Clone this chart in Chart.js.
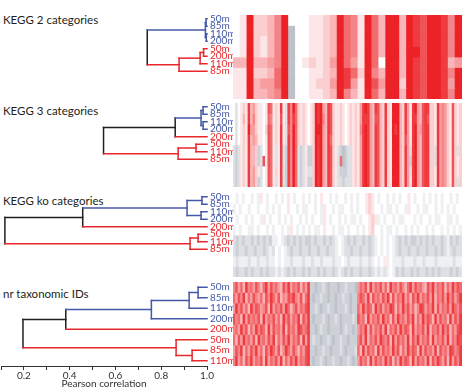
<!DOCTYPE html>
<html>
<head>
<meta charset="utf-8">
<script src="https://cdn.jsdelivr.net/npm/chart.js@4.4.0/dist/chart.umd.min.js"></script>
<style>
    html, body { margin: 0; padding: 0; background: #fff; }
    body { width: 474px; height: 387px; position: relative; overflow: hidden; font-family: Lato, 'Open Sans', sans-serif; }
    canvas { position: absolute; }
    .title { position: absolute; left: 3px; font-size: 11.5px; line-height: 14px; color: #231f20; white-space: nowrap; }
</style>
</head>
<body>
<div id="root"></div>
<script>
// Panel titles and leaf labels
const panelTitles = ['KEGG 2 categories', 'KEGG 3 categories', 'KEGG ko categories', 'nr taxonomic IDs'];
const kegg2Leaves = ['50m', '85m', '110m', '200m', '50m', '200m', '110m', '85m'];
const kegg3Leaves = ['50m', '85m', '110m', '200m', '200m', '50m', '110m', '85m'];
const keggKoLeaves = ['50m', '85m', '110m', '200m', '200m', '50m', '110m', '85m'];
const nrLeaves = ['50m', '85m', '110m', '200m', '200m', '50m', '85m', '110m'];
// 0 = blue sample group, 1 = red sample group
const leafGroups = [0, 0, 0, 0, 1, 1, 1, 1];

// Merges: [child a, child b, Pearson correlation], nodes 8.. are earlier merges
const kegg2Merges = [[0, 1, 0.996], [2, 3, 0.997], [8, 9, 0.993], [4, 5, 0.985], [11, 6, 0.970], [12, 7, 0.878], [10, 13, 0.739]];
const kegg3Merges = [[0, 1, 0.983], [2, 3, 0.983], [8, 9, 0.974], [10, 4, 0.861], [5, 6, 0.952], [12, 7, 0.874], [11, 13, 0.548]];
const keggKoMerges = [[0, 1, 0.978], [2, 3, 0.974], [8, 9, 0.913], [10, 4, 0.457], [5, 6, 0.961], [12, 7, 0.926], [11, 13, 0.117]];
const nrMerges = [[0, 1, 0.961], [8, 2, 0.922], [9, 3, 0.757], [10, 4, 0.383], [6, 7, 0.935], [5, 12, 0.865], [11, 13, 0.196]];

// x axis
const xTickValues = [0.1, 0.2, 0.3, 0.4, 0.5, 0.6, 0.7, 0.8, 0.9, 1.0];
const xTickLabels = ['', '0.2', '', '0.4', '', '0.6', '', '0.8', '', '1.0'];

// Heatmap cells, one string per row: 0-9 = red level, a-e = grey level
const kegg2Cells = [
    '0192235900 0112396519 6399398799 859',
    '01922359d0 0112396519 6399398799 859',
    '01921359d0 0112396519 6399398799 859',
    '01921359d0 0112396519 6399399799 859',
    '33933459d0 1212496419 6099398799 834',
    '11922369d0 0112398629 5399398799 859',
    '11934469d0 0122498419 7499298799 849',
    '11933459d0 0112395319 6399398799 859'
];
const kegg3Cells = [
    '0b0 121 8 342 11 01 76 121 8 1b 8596 212 1012 989 43 87 21 121012 121 4 898 43 87 32 8 21 999 32 8 41 89 43 78 82 21 8 454 21 7 212',
    '0b0 131 8 352 11 01 65 121 7 1b 8586 212 1012 989 53 87 21 121012 121 4 888 43 77 32 8 21 999 32 8 41 88 43 78 72 21 8 454 21 7 212',
    '0b0 121 9 442 11 02 76 121 8 1b 7596 212 1012 999 43 87 21 121012 121 5 898 43 87 32 8 21 989 32 8 41 89 44 78 82 21 8 454 21 7 212',
    '0b0 121 8 343 11 01 76 121 8 1b 8596 212 1012 989 43 86 21 121012 121 4 898 43 87 32 8 21 999 32 7 41 89 43 78 82 21 8 454 21 7 212',
    'bcb 121 8 332 cb 01 76 1b1 8 bc 8596 bcb 1cc2 989 43 87 21 bcdcbb 121 4 898 43 87 32 8 21 999 32 8 4b 89 43 78 82 2b 8 454 21 7 2b2',
    'bcb 121 8 332 cb 71 76 1b1 8 bc 8596 bcb 1cc2 989 43 87 21 b6dcbb 121 4 898 43 87 32 8 21 999 32 8 4c 89 43 78 82 2b 8 454 21 7 212',
    'bcb 121 8 342 1b 01 76 121 8 bc 8596 bcb 1bb2 989 43 87 21 bcccbb 121 4 898 43 87 32 8 21 999 32 8 4b 89 43 78 82 21 8 454 21 7 212',
    'bcb 121 8 342 cb 01 76 1b1 8 bc 8596 bcb 1cc2 989 43 87 21 bbcbbb 121 4 898 43 87 32 8 21 999 32 8 41 89 43 78 82 21 8 454 21 7 2b2'
];
const keggKoCells = [
    '0a0a 00a0 a10a 00a0 a010 a00a 0a0a 0100 a0a0 0a0a 0a00 1210 a00a 0a0a 0010 a00a 0a0a 0a00 a0a0',
    'a0a0 0a00 a00a 0a0a 0010 0a0a a00a 0a10 0a0a a00a 0a00 1210 0a0a a0a0 0a10 0a0a a00a 0a0a 0a00',
    '0a00 a0a0 0a10 a00a 0a0a 00a0 a0a0 0a10 a00a 0a0a a0a0 0121 a0a0 0a0a a000 a0a0 0a0a a00a a0a0',
    'a0a0 0aa0 a00a 0a00 a0a1 0a0a 0a0a a010 0a0a a0a0 0a0a 0120 0a0a a0a0 0a0a 0a00 a0a0 0a0a 0a0a',
    'bcbcbbcbcbcbca a0ab cbcbcbccbcbbcbcba 0a bcbcbbcbcb a0a0a0a bcbcbccbcbcbcbbcb a cbcb',
    'bcbbcbbcbbcbab 0a0a bcbbcbbcbbcbbcbba 0a bbcbbcbbcb a0a0a0a bcbbcbbcbbcbbcbcb a bcbb',
    'abaaabaabaabaa 0a0a abaaabaabaabaaaba a0 abaaabaaba 0a01a0a aabaaabaabaaabaaa a abaa',
    'bcbbcbcbbcbcbb abab cbcbbcbcbbcbcbbcb ab cbcbbcbbcb ababa0a cbcbbcbcbbcbcbcbb b cbcb'
];
const nrCells = [
    '5746385647536847564375846573648 ccdccbcdcccdccbcccd 465738465746385647536847564375846573648576',
    '6475836475463758647354768547368 cdccbccdccdccbccdcc 576483756475837465846375846574836574857468',
    '4857463857645738465748635746578 ccbcdccbccdcccbcdcc 648576385746587364857463587465837465748657',
    '7563847565738465746385746583758 cdcccbcdccbcdccccbc 756384657485637485647583648576384756384758',
    '5648573648576384756483756487568 ccdcbccdccccdcbccdc 465837465748365748576384657483657485736478',
    '6374856473856475836475846573848 cbccdccbcdccbccdccc 574836574865738475648375846573846574836587',
    '4758364758463758647358647536478 ccdccbccdcccbcdcccb 638475638475648573648576384756483756487568',
    '5846375846573846574836475846578 cdccbcdccbccdccbcdc 475638475648573648576384756483758647384758'
];

// Layout and styles
const BLUE = '#4458a8';
const RED = '#e8282c';
const BLACK = '#231f20';
const HEAT_RED = [236, 34, 39];
const HEAT_GRAY = [172, 178, 188];
const PANEL_TOPS = [15, 103, 193, 282];
const TITLE_TOPS = [13, 104, 194, 287];
const PANEL_H = 84;
const DENDRO_W = 233;
const HEAT_LEFT = 233;
const HEAT_W = 229;
const AXIS_H = 24;

const Figure = (() => {
    const panels = [
        { leaves: kegg2Leaves, merges: kegg2Merges, cells: kegg2Cells },
        { leaves: kegg3Leaves, merges: kegg3Merges, cells: kegg3Cells },
        { leaves: keggKoLeaves, merges: keggKoMerges, cells: keggKoCells },
        { leaves: nrLeaves, merges: nrMerges, cells: nrCells }
    ];

    const toValues = s => s.replace(/\s+/g, '').split('').map(ch =>
        /[0-9]/.test(ch) ? +ch / 9 : -('abcde'.indexOf(ch) + 1) / 5);

    const mix = (rgb, t) => 'rgb(' + rgb.map(c => Math.round(255 - (255 - c) * t)).join(',') + ')';
    const cellColor = v => v >= 0 ? mix(HEAT_RED, v) : mix(HEAT_GRAY, -v);

    const addCanvas = (left, top, w, h) => {
        const c = document.createElement('canvas');
        c.width = w; c.height = h;
        c.style.left = left + 'px'; c.style.top = top + 'px';
        document.getElementById('root').appendChild(c);
        return c;
    };

    const drawHeatmap = (canvas, rows) => {
        const values = rows.map(toValues);
        const n = Math.max(...values.map(r => r.length));
        new Chart(canvas, {
            type: 'bar',
            data: {
                labels: Array.from({ length: n }, (_, i) => i),
                datasets: values.map(r => ({
                    data: Array.from({ length: n }, () => 1),
                    backgroundColor: Array.from({ length: n }, (_, i) => cellColor(r[i] ?? 0)),
                    borderWidth: 0,
                    barPercentage: 1,
                    categoryPercentage: 1
                }))
            },
            options: {
                responsive: false,
                animation: false,
                events: [],
                layout: { padding: 0 },
                plugins: { legend: { display: false }, tooltip: { enabled: false } },
                scales: {
                    x: { display: false, stacked: true },
                    y: { display: false, stacked: true, min: 0, max: rows.length, reverse: true }
                }
            }
        });
    };

    const drawDendrogram = (canvas, leaves, merges, showAxis) => {
        const ys = leaves.map((_, i) => i);
        const xs = leaves.map(() => 1);
        const colors = leafGroups.map(g => g ? RED : BLUE);
        const datasets = [];
        const addLine = (pts, color) => datasets.push({
            data: pts, borderColor: color, borderWidth: 1.5, showLine: true,
            pointRadius: 0, borderCapStyle: 'square', clip: false
        });
        merges.forEach(([a, b, r]) => {
            const c = colors[a] === colors[b] ? colors[a] : BLACK;
            addLine([{ x: xs[a], y: ys[a] }, { x: r, y: ys[a] }], colors[a]);
            addLine([{ x: xs[b], y: ys[b] }, { x: r, y: ys[b] }], colors[b]);
            addLine([{ x: r, y: ys[a] }, { x: r, y: ys[b] }], c);
            xs.push(r);
            ys.push((ys[a] + ys[b]) / 2);
            colors.push(c);
        });

        new Chart(canvas, {
            type: 'scatter',
            data: { datasets },
            options: {
                responsive: false,
                animation: false,
                events: [],
                layout: { padding: { left: 1, right: 0, top: 0, bottom: 0 } },
                plugins: { legend: { display: false }, tooltip: { enabled: false } },
                scales: {
                    x: {
                        type: 'linear', min: 0.1, max: 1.0, display: showAxis,
                        afterBuildTicks: s => { s.ticks = xTickValues.map(v => ({ value: v })); },
                        afterFit: s => { s.height = AXIS_H; s.paddingLeft = 0; s.paddingRight = 0; },
                        ticks: {
                            autoSkip: false, maxRotation: 0, padding: 0,
                            color: '#333', font: { family: 'Lato', size: 10 },
                            callback: (v, i) => xTickLabels[i]
                        },
                        grid: { drawOnChartArea: false, drawTicks: true, tickLength: 4, color: '#333' },
                        border: { display: true, color: '#333', width: 1 },
                        title: {
                            display: true, text: 'Pearson correlation', color: '#333',
                            font: { family: 'Lato', size: 10 }, padding: 0
                        }
                    },
                    y: {
                        type: 'linear', position: 'right', min: -0.5, max: leaves.length - 0.5, reverse: true,
                        afterBuildTicks: s => { s.ticks = leaves.map((_, i) => ({ value: i })); },
                        afterFit: s => { s.width = DENDRO_W - 207; s.paddingTop = 0; s.paddingBottom = 0; },
                        ticks: {
                            autoSkip: false, padding: 3,
                            font: { family: "'Liberation Sans Narrow', Lato", size: 10 },
                            color: ctx => leafGroups[ctx.index] ? RED : BLUE,
                            callback: (v, i) => leaves[i]
                        },
                        grid: { display: false, drawTicks: false },
                        border: { display: false }
                    }
                }
            }
        });
    };

    const initialize = () => {
        const root = document.getElementById('root');
        panels.forEach((p, i) => {
            const last = i === panels.length - 1;
            const t = document.createElement('div');
            t.className = 'title';
            t.style.top = TITLE_TOPS[i] + 'px';
            t.textContent = panelTitles[i];
            root.appendChild(t);

            drawDendrogram(addCanvas(0, PANEL_TOPS[i], DENDRO_W, PANEL_H + (last ? AXIS_H : 0)), p.leaves, p.merges, last);
            drawHeatmap(addCanvas(HEAT_LEFT, PANEL_TOPS[i], HEAT_W, PANEL_H), p.cells);
        });
    };

    return { initialize };
})();

Figure.initialize();
</script>
</body>
</html>
